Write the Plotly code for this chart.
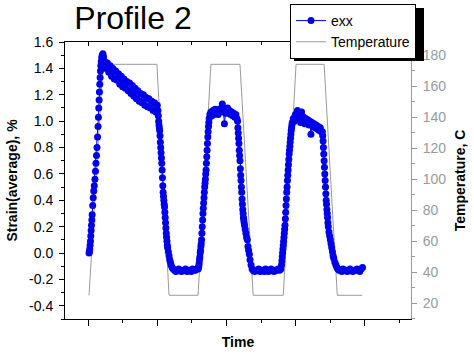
import plotly.graph_objects as go

# ---------------- data ----------------
# time in minutes (axis labels hidden in the original), strain exx in %
c1_time = [0.3, 0.4, 0.5, 0.6, 0.7, 0.8, 0.9, 1.0, 1.1, 1.2, 1.35, 1.5, 1.65, 1.8, 2.0, 2.15, 2.3, 2.45, 2.6, 2.75,
           2.9, 3.0, 3.1, 3.2, 3.3, 3.4, 3.5, 3.6, 3.7, 3.8, 3.95, 4.1, 4.3, 4.45, 4.6,
           4.8, 5.2, 5.6, 6.0, 6.4, 6.8, 7.2, 7.6, 8.0, 8.4, 8.8, 9.2, 9.6, 10.0, 10.4, 10.8, 11.2, 11.6, 12.0, 12.4,
           12.8, 13.2, 13.6, 14.0, 14.4, 14.8, 15.2, 15.6, 16.0, 16.4, 16.8, 17.2, 17.6, 18.0, 18.4, 18.8, 19.2, 19.6, 20.0,
           20.2, 20.3, 20.4, 20.5, 20.6, 20.7, 20.8, 20.9, 21.0, 21.1, 21.2, 21.3, 21.4, 21.5, 21.6, 21.7, 21.8, 21.9,
           22.0, 22.1, 22.2, 22.3, 22.4, 22.5, 22.6, 22.7, 22.8, 22.9, 23.0, 23.2, 23.4, 23.6, 23.8, 24.0, 24.3, 24.6,
           25.0, 25.4, 25.8, 26.2, 26.6, 27.0, 27.4, 27.8, 28.2, 28.6, 29.0, 29.4, 29.8, 30.2, 30.6, 31.0, 31.4]
c1_exx = [0.00, 0.01, 0.03, 0.06, 0.09, 0.13, 0.17, 0.21, 0.25, 0.29, 0.36, 0.42, 0.47, 0.51, 0.56, 0.62, 0.68, 0.74, 0.80, 0.88,
          0.96, 1.03, 1.10, 1.16, 1.22, 1.28, 1.33, 1.38, 1.42, 1.45, 1.48, 1.50, 1.51, 1.49, 1.46,
          1.45, 1.40, 1.44, 1.37, 1.42, 1.34, 1.40, 1.32, 1.38, 1.31, 1.36, 1.28, 1.34, 1.26, 1.32, 1.25, 1.30, 1.23,
          1.29, 1.21, 1.27, 1.19, 1.25, 1.17, 1.23, 1.15, 1.21, 1.14, 1.20, 1.12, 1.18, 1.11, 1.17, 1.10, 1.15, 1.08, 1.14, 1.07, 1.12,
          1.08, 1.04, 1.00, 0.97, 0.95, 0.93, 0.89, 0.84, 0.80, 0.76, 0.72, 0.68, 0.63, 0.57, 0.51, 0.46, 0.43, 0.40,
          0.37, 0.35, 0.31, 0.27, 0.23, 0.19, 0.15, 0.12, 0.09, 0.06, 0.04, 0.01, -0.02, -0.05, -0.07, -0.09, -0.11, -0.12,
          -0.13, -0.14, -0.13, -0.12, -0.13, -0.14, -0.13, -0.13, -0.12, -0.14, -0.13, -0.13, -0.14, -0.12, -0.13, -0.13, -0.12]

c2_time = [31.8, 31.9, 32.0, 32.1, 32.2, 32.3, 32.4, 32.5, 32.6, 32.7, 32.8, 32.9, 33.0, 33.1, 33.2, 33.3, 33.4, 33.5,
           33.6, 33.7, 33.8, 33.9, 34.0, 34.1, 34.2, 34.3, 34.4, 34.5, 34.6, 34.7, 34.8, 34.9, 35.0, 35.2,
           35.5, 35.8, 36.1, 36.4, 36.7, 37.0, 37.3, 37.6, 37.9, 38.2, 38.5, 38.8, 39.1, 39.4, 39.7, 40.0, 40.3, 40.6,
           40.9, 41.2, 41.5, 41.8, 42.1, 42.4, 42.7, 43.0,
           43.2, 43.3, 43.4, 43.5, 43.6, 43.7, 43.8, 43.9, 44.0, 44.1, 44.2, 44.3, 44.4, 44.5, 44.6, 44.7, 44.8, 44.9,
           45.0, 45.1, 45.2, 45.4, 45.6, 45.8, 46.0, 46.2, 46.4, 46.6, 46.8, 47.1, 47.4,
           47.7, 48.1, 48.5, 48.9, 49.3, 49.7, 50.1, 50.5, 50.9, 51.3, 51.7, 52.1, 52.5, 52.9, 53.3, 53.7, 54.1, 54.5,
           54.9, 55.3, 55.7]
c2_exx = [-0.12, -0.11, -0.10, -0.08, -0.05, -0.03, 0.00, 0.02, 0.05, 0.07, 0.10, 0.15, 0.20, 0.25, 0.30, 0.34, 0.38, 0.42,
          0.46, 0.50, 0.53, 0.56, 0.60, 0.63, 0.68, 0.73, 0.78, 0.83, 0.88, 0.92, 0.96, 0.99, 1.02, 1.05,
          1.07, 1.04, 1.08, 1.05, 1.09, 1.06, 1.08, 1.05, 1.09, 1.07, 1.10, 1.13, 1.08, 0.98, 1.06, 1.07, 1.10, 1.06,
          1.08, 1.05, 1.07, 1.04, 1.06, 1.03, 1.05, 1.02,
          1.00, 0.95, 0.91, 0.87, 0.83, 0.78, 0.74, 0.70, 0.64, 0.59, 0.55, 0.50, 0.46, 0.41, 0.37, 0.33, 0.30, 0.27,
          0.25, 0.23, 0.21, 0.18, 0.15, 0.12, 0.10, 0.05, 0.02, -0.01, -0.05, -0.09, -0.12,
          -0.13, -0.14, -0.13, -0.13, -0.12, -0.14, -0.13, -0.13, -0.14, -0.12, -0.13, -0.14, -0.13, -0.12, -0.13, -0.14,
          -0.13, -0.13, -0.12, -0.13, -0.12]

c3_time = [55.9, 56.0, 56.1, 56.2, 56.3, 56.4, 56.5, 56.6, 56.7, 56.8, 56.9, 57.0, 57.1, 57.2, 57.3, 57.4, 57.5, 57.6,
           57.7, 57.8, 57.9, 58.0, 58.1, 58.2, 58.3, 58.4, 58.5, 58.6, 58.7, 58.8, 58.9, 59.0,
           59.3, 59.6, 59.9, 60.2, 60.5, 60.8, 61.1, 61.4, 61.7, 62.0, 62.3, 62.6, 62.9, 63.2, 63.5, 63.8, 64.1, 64.4,
           64.7, 65.0, 65.3, 65.6, 65.9, 66.2, 66.5, 66.8, 67.1, 67.4,
           67.7, 67.8, 67.9, 68.0, 68.1, 68.2, 68.3, 68.4, 68.5, 68.6, 68.7, 68.8, 68.9, 69.0, 69.1, 69.2, 69.3, 69.4,
           69.6, 69.8, 70.0, 70.2, 70.4, 70.6, 70.8, 71.0, 71.3, 71.6, 71.9, 72.2,
           72.5, 72.9, 73.3, 73.7, 74.1, 74.5, 74.9, 75.3, 75.7, 76.1, 76.5, 76.9, 77.3, 77.7, 78.1, 78.5, 78.9, 79.3]
c3_exx = [-0.09, -0.06, -0.03, 0.00, 0.03, 0.06, 0.09, 0.12, 0.15, 0.18, 0.21, 0.26, 0.31, 0.36, 0.41, 0.46, 0.50, 0.55,
          0.59, 0.63, 0.67, 0.71, 0.75, 0.78, 0.81, 0.84, 0.87, 0.90, 0.93, 0.95, 0.97, 0.99,
          1.02, 1.00, 1.05, 1.03, 1.08, 1.02, 1.04, 0.99, 1.07, 1.01, 1.03, 0.98, 1.02, 1.00, 1.01, 0.97, 1.00, 0.90,
          0.99, 0.96, 0.98, 0.95, 0.97, 0.94, 0.96, 0.93, 0.95, 0.92,
          0.92, 0.89, 0.85, 0.80, 0.75, 0.70, 0.65, 0.60, 0.55, 0.50, 0.45, 0.40, 0.37, 0.33, 0.30, 0.27, 0.23, 0.20,
          0.16, 0.13, 0.10, 0.07, 0.04, 0.01, -0.02, -0.04, -0.07, -0.09, -0.11, -0.12,
          -0.13, -0.13, -0.14, -0.12, -0.13, -0.13, -0.14, -0.13, -0.12, -0.13, -0.14, -0.13, -0.13, -0.12, -0.13, -0.14,
          -0.12, -0.11]

temp_time = [0.3, 4.3, 19.9, 23.4, 31.8, 35.5, 43.9, 47.7, 56.4, 60.1, 68.2, 72.0, 79.2]
temp_C = [25, 174, 174, 25, 25, 174, 174, 25, 25, 174, 174, 25, 25]

strain_ticks = [1.6, 1.4, 1.2, 1.0, 0.8, 0.6, 0.4, 0.2, 0.0, -0.2, -0.4]
strain_labels = ["1.6", "1.4", "1.2", "1.0", "0.8", "0.6", "0.4", "0.2", "0.0", "-0.2", "-0.4"]
temp_ticks = [20, 40, 60, 80, 100, 120, 140, 160, 180]
temp_labels = ["20", "40", "60", "80", "100", "120", "140", "160", "180"]

exx_time = c1_time + c2_time + c3_time
exx_values = c1_exx + c2_exx + c3_exx

# ---------------- style ----------------
FONT = "Liberation Sans, Arial, sans-serif"
BLUE = "rgb(0,0,235)"
GRAY = "#9a9a9a"
W, H = 474, 356
ML, MR, MT, MB = 65, 63, 42, 37
PW, PH = W - ML - MR, H - MT - MB
X_RANGE = [-6.65, 93.3]


def px_x(p):
    return (p - ML) / PW


def px_y(p):
    return (H - MB - p) / PH


fig = go.Figure()
fig.add_trace(go.Scatter(
    x=exx_time, y=exx_values, name="exx", mode="lines+markers",
    xaxis="x2", yaxis="y2",
    line=dict(color=BLUE, width=1),
    marker=dict(size=7, color=BLUE),
))
fig.add_trace(go.Scatter(
    x=temp_time, y=temp_C, name="Temperature", mode="lines",
    xaxis="x", yaxis="y",
    line=dict(color=GRAY, width=1),
))

fig.update_layout(
    width=W, height=H,
    margin=dict(l=ML, r=MR, t=MT, b=MB, pad=0, autoexpand=False),
    paper_bgcolor="white", plot_bgcolor="white",
    font=dict(family=FONT, size=14, color="black"),
    showlegend=True,
    title=dict(text="Profile 2", x=133 / W, xanchor="center", y=1 - 18 / H, yanchor="middle",
               font=dict(family=FONT, size=32, color="black"), automargin=False),
    xaxis=dict(
        range=X_RANGE, anchor="y", side="bottom", automargin=False,
        showline=True, linecolor="black", linewidth=1,
        ticks="outside", ticklen=6, tickcolor="black", tick0=0, dtick=20,
        minor=dict(dtick=10, ticks="outside", ticklen=3, tickcolor="black"),
        showticklabels=False, showgrid=False, zeroline=False,
        title=dict(text="<b>Time</b>", font=dict(size=14), standoff=12),
    ),
    xaxis2=dict(
        range=X_RANGE, overlaying="x", anchor="y2", side="top", automargin=False,
        showline=True, linecolor="black", linewidth=1,
        ticks="inside", ticklen=4, tickcolor="black", tick0=0, dtick=20,
        minor=dict(dtick=10, ticks="inside", ticklen=3, tickcolor="black"),
        showticklabels=False, showgrid=False, zeroline=False,
    ),
    yaxis=dict(
        range=[9.7, 188.4], anchor="x", side="right", automargin=False,
        showline=True, linecolor=GRAY, linewidth=1,
        ticks="outside", ticklen=5, tickcolor=GRAY,
        tickvals=temp_ticks, ticktext=temp_labels,
        tickfont=dict(color=GRAY, size=14), ticklabelstandoff=3,
        minor=dict(dtick=10, tick0=0, ticks="outside", ticklen=3, tickcolor=GRAY),
        showgrid=False, zeroline=False,
        title=dict(text="<b>Temperature, C</b>", font=dict(size=14, color="black"), standoff=9),
    ),
    yaxis2=dict(
        range=[-0.5, 1.6], overlaying="y", anchor="x2", side="left", automargin=False,
        showline=True, linecolor="black", linewidth=1,
        ticks="outside", ticklen=5, tickcolor="black",
        tickvals=strain_ticks, ticktext=strain_labels,
        tickfont=dict(size=14), ticklabelstandoff=3,
        minor=dict(dtick=0.1, tick0=0, ticks="outside", ticklen=3, tickcolor="black"),
        showgrid=False, zeroline=False,
        title=dict(text="<b>Strain(average), %</b>", font=dict(size=14), standoff=8),
    ),
    legend=dict(
        x=px_x(290), y=px_y(4), xanchor="left", yanchor="top",
        bgcolor="white", bordercolor="black", borderwidth=1,
        font=dict(family=FONT, size=14), tracegroupgap=0,
    ),
    shapes=[dict(
        type="rect", xref="paper", yref="paper",
        x0=px_x(294), x1=px_x(424), y0=px_y(61), y1=px_y(8),
        fillcolor="black", line=dict(width=0), layer="above",
    )],
)

fig.write_html("out.html", config={"displayModeBar": False},
               post_script="document.body.style.margin='0';")
